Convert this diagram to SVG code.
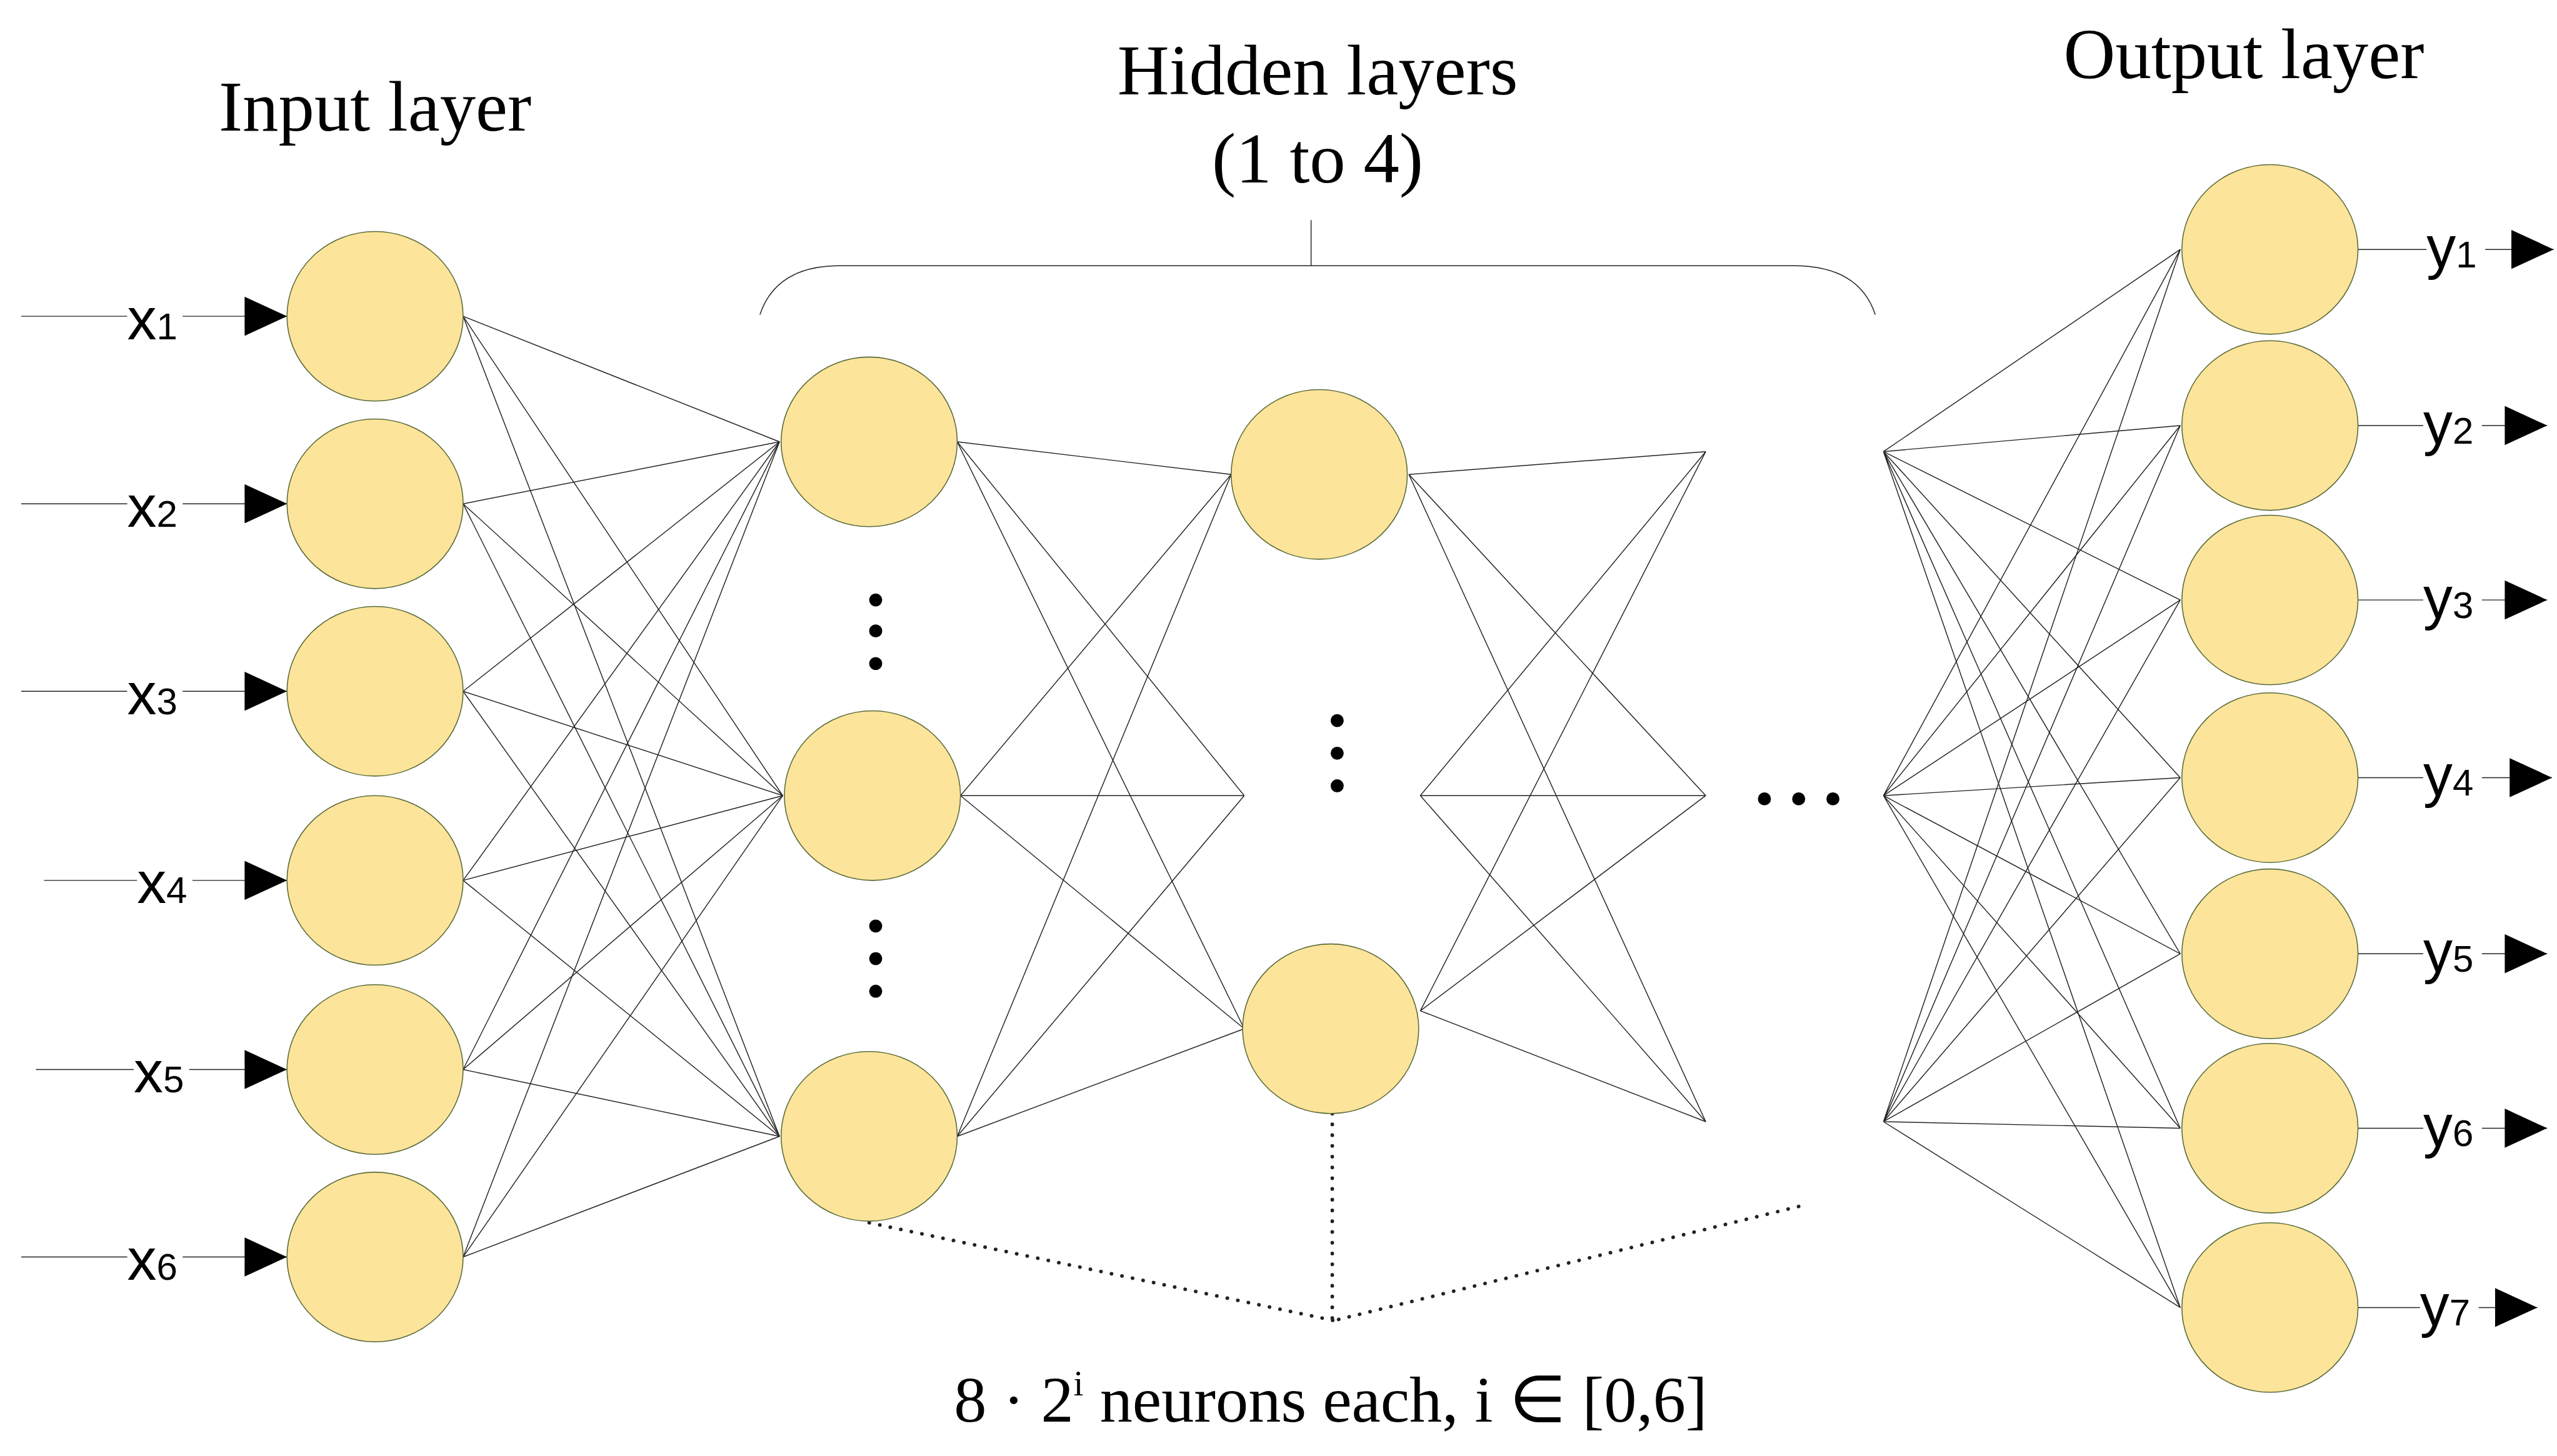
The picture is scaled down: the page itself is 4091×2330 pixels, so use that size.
<svg xmlns="http://www.w3.org/2000/svg" width="4091" height="2330" viewBox="0 0 4091 2330">
<style>
.n{fill:#fce49a;stroke:#5a6b3a;stroke-width:0.6}
.c line,.c path{stroke:#222;stroke-width:0.55;fill:none}
.io{stroke:#111;stroke-width:0.8}
.t{font-family:"Liberation Serif",serif;font-size:44px;fill:#000;text-anchor:middle}
.v{font-family:"Liberation Sans",sans-serif;font-size:36px;fill:#000}
.s{font-size:23px}
.d{fill:#000}
</style>
<defs>
<marker id="ah" markerWidth="26" markerHeight="24" refX="26" refY="12" orient="auto" markerUnits="userSpaceOnUse"><path d="M0,0 L26,12 L0,24z" fill="#000"/></marker>
</defs>
<rect width="4091" height="2330" fill="#fff"/>
<g transform="scale(2.609)">
<g id="labels">
<text class="t" x="230" y="80">Input layer</text>
<text class="t" x="808" y="58">Hidden layers</text>
<text class="t" x="808" y="112">(1 to 4)</text>
<text class="t" x="1376" y="48">Output layer</text>
<text class="t" x="816" y="872" style="font-size:40px">8 · 2<tspan dy="-16" style="font-size:22px">i</tspan><tspan dy="16"> neurons each, i ∈ [0,6]</tspan></text>
</g>
<g id="connectors" class="c">
<path d="M466,193 Q476,163 515,163 L1100,163 Q1140,163 1150,193"/>
<line x1="804" y1="135" x2="804" y2="163"/>
<g id="in-h1">
<line x1="284" y1="194" x2="478" y2="271"/><line x1="284" y1="194" x2="480" y2="488"/><line x1="284" y1="194" x2="478" y2="697"/>
<line x1="284" y1="309" x2="478" y2="271"/><line x1="284" y1="309" x2="480" y2="488"/><line x1="284" y1="309" x2="478" y2="697"/>
<line x1="284" y1="424" x2="478" y2="271"/><line x1="284" y1="424" x2="480" y2="488"/><line x1="284" y1="424" x2="478" y2="697"/>
<line x1="284" y1="540" x2="478" y2="271"/><line x1="284" y1="540" x2="480" y2="488"/><line x1="284" y1="540" x2="478" y2="697"/>
<line x1="284" y1="656" x2="478" y2="271"/><line x1="284" y1="656" x2="480" y2="488"/><line x1="284" y1="656" x2="478" y2="697"/>
<line x1="284" y1="771" x2="478" y2="271"/><line x1="284" y1="771" x2="480" y2="488"/><line x1="284" y1="771" x2="478" y2="697"/>
</g>
<g id="h1-h2">
<line x1="587" y1="271" x2="755" y2="291"/><line x1="587" y1="271" x2="763" y2="488"/><line x1="587" y1="271" x2="763" y2="631"/>
<line x1="589" y1="488" x2="755" y2="291"/><line x1="589" y1="488" x2="763" y2="488"/><line x1="589" y1="488" x2="763" y2="631"/>
<line x1="587" y1="697" x2="755" y2="291"/><line x1="587" y1="697" x2="763" y2="488"/><line x1="587" y1="697" x2="763" y2="631"/>
</g>
<g id="h2-h3">
<line x1="864" y1="291" x2="1046" y2="277"/><line x1="864" y1="291" x2="1046" y2="488"/><line x1="864" y1="291" x2="1046" y2="688"/>
<line x1="871" y1="488" x2="1046" y2="277"/><line x1="871" y1="488" x2="1046" y2="488"/><line x1="871" y1="488" x2="1046" y2="688"/>
<line x1="871" y1="620" x2="1046" y2="277"/><line x1="871" y1="620" x2="1046" y2="488"/><line x1="871" y1="620" x2="1046" y2="688"/>
</g>
<g id="h3-out">
<path d="M1155,277 L1337,153 M1155,277 L1337,261 M1155,277 L1337,368 M1155,277 L1337,477 M1155,277 L1337,585 M1155,277 L1337,692 M1155,277 L1337,802"/>
<path d="M1155,488 L1337,153 M1155,488 L1337,261 M1155,488 L1337,368 M1155,488 L1337,477 M1155,488 L1337,585 M1155,488 L1337,692 M1155,488 L1337,802"/>
<path d="M1155,688 L1337,153 M1155,688 L1337,261 M1155,688 L1337,368 M1155,688 L1337,477 M1155,688 L1337,585 M1155,688 L1337,692 M1155,688 L1337,802"/>
</g>
<g id="dotted" style="stroke-dasharray:0.1 6.5;stroke-linecap:round">
<line x1="533" y1="750" x2="818" y2="810" style="stroke-width:2.2"/>
<line x1="817" y1="683" x2="817" y2="810" style="stroke-width:2.2"/>
<line x1="1103" y1="740" x2="818" y2="810" style="stroke-width:2.2"/>
</g>
<g id="inputs" class="io">
<line x1="13" y1="194" x2="78" y2="194"/><line x1="112" y1="194" x2="176" y2="194" marker-end="url(#ah)"/>
<line x1="13" y1="309" x2="78" y2="309"/><line x1="112" y1="309" x2="176" y2="309" marker-end="url(#ah)"/>
<line x1="13" y1="424" x2="78" y2="424"/><line x1="112" y1="424" x2="176" y2="424" marker-end="url(#ah)"/>
<line x1="27" y1="540" x2="84" y2="540"/><line x1="118" y1="540" x2="176" y2="540" marker-end="url(#ah)"/>
<line x1="22" y1="656" x2="82" y2="656"/><line x1="116" y1="656" x2="176" y2="656" marker-end="url(#ah)"/>
<line x1="13" y1="771" x2="78" y2="771"/><line x1="112" y1="771" x2="176" y2="771" marker-end="url(#ah)"/>
</g>
<g id="outputs" class="io">
<line x1="1446" y1="153" x2="1488" y2="153"/><line x1="1524" y1="153" x2="1566" y2="153" marker-end="url(#ah)"/>
<line x1="1446" y1="261" x2="1486" y2="261"/><line x1="1522" y1="261" x2="1562" y2="261" marker-end="url(#ah)"/>
<line x1="1446" y1="368" x2="1486" y2="368"/><line x1="1522" y1="368" x2="1562" y2="368" marker-end="url(#ah)"/>
<line x1="1446" y1="477" x2="1486" y2="477"/><line x1="1522" y1="477" x2="1565" y2="477" marker-end="url(#ah)"/>
<line x1="1446" y1="585" x2="1486" y2="585"/><line x1="1522" y1="585" x2="1562" y2="585" marker-end="url(#ah)"/>
<line x1="1446" y1="692" x2="1486" y2="692"/><line x1="1522" y1="692" x2="1562" y2="692" marker-end="url(#ah)"/>
<line x1="1446" y1="802" x2="1484" y2="802"/><line x1="1520" y1="802" x2="1556" y2="802" marker-end="url(#ah)"/>
</g>
</g>
<g id="io-labels" class="v">
<text x="78" y="208">x<tspan class="s">1</tspan></text>
<text x="78" y="323">x<tspan class="s">2</tspan></text>
<text x="78" y="438">x<tspan class="s">3</tspan></text>
<text x="84" y="554">x<tspan class="s">4</tspan></text>
<text x="82" y="670">x<tspan class="s">5</tspan></text>
<text x="78" y="785">x<tspan class="s">6</tspan></text>
<text x="1488" y="164">y<tspan class="s">1</tspan></text>
<text x="1486" y="272">y<tspan class="s">2</tspan></text>
<text x="1486" y="379">y<tspan class="s">3</tspan></text>
<text x="1486" y="488">y<tspan class="s">4</tspan></text>
<text x="1486" y="596">y<tspan class="s">5</tspan></text>
<text x="1486" y="703">y<tspan class="s">6</tspan></text>
<text x="1484" y="813">y<tspan class="s">7</tspan></text>
</g>
<g id="input-nodes">
<ellipse id="x1n" class="n" cx="230" cy="194" rx="54" ry="52"/>
<ellipse id="x2n" class="n" cx="230" cy="309" rx="54" ry="52"/>
<ellipse id="x3n" class="n" cx="230" cy="424" rx="54" ry="52"/>
<ellipse id="x4n" class="n" cx="230" cy="540" rx="54" ry="52"/>
<ellipse id="x5n" class="n" cx="230" cy="656" rx="54" ry="52"/>
<ellipse id="x6n" class="n" cx="230" cy="771" rx="54" ry="52"/>
</g>
<g id="hidden1">
<ellipse class="n" cx="533" cy="271" rx="54" ry="52"/>
<ellipse class="n" cx="535" cy="488" rx="54" ry="52"/>
<ellipse class="n" cx="533" cy="697" rx="54" ry="52"/>
<circle class="d" cx="537" cy="368" r="4"/><circle class="d" cx="537" cy="387" r="4"/><circle class="d" cx="537" cy="407" r="4"/>
<circle class="d" cx="537" cy="568" r="4"/><circle class="d" cx="537" cy="588" r="4"/><circle class="d" cx="537" cy="608" r="4"/>
</g>
<g id="hidden2">
<ellipse class="n" cx="809" cy="291" rx="54" ry="52"/>
<ellipse class="n" cx="816" cy="631" rx="54" ry="52"/>
<circle class="d" cx="820" cy="442" r="4"/><circle class="d" cx="820" cy="462" r="4"/><circle class="d" cx="820" cy="482" r="4"/>
<circle class="d" cx="1082" cy="490" r="4"/><circle class="d" cx="1103" cy="490" r="4"/><circle class="d" cx="1124" cy="490" r="4"/>
</g>
<g id="output-nodes">
<ellipse class="n" cx="1392" cy="153" rx="54" ry="52"/>
<ellipse class="n" cx="1392" cy="261" rx="54" ry="52"/>
<ellipse class="n" cx="1392" cy="368" rx="54" ry="52"/>
<ellipse class="n" cx="1392" cy="477" rx="54" ry="52"/>
<ellipse class="n" cx="1392" cy="585" rx="54" ry="52"/>
<ellipse class="n" cx="1392" cy="692" rx="54" ry="52"/>
<ellipse class="n" cx="1392" cy="802" rx="54" ry="52"/>
</g>
</g>
</svg>
